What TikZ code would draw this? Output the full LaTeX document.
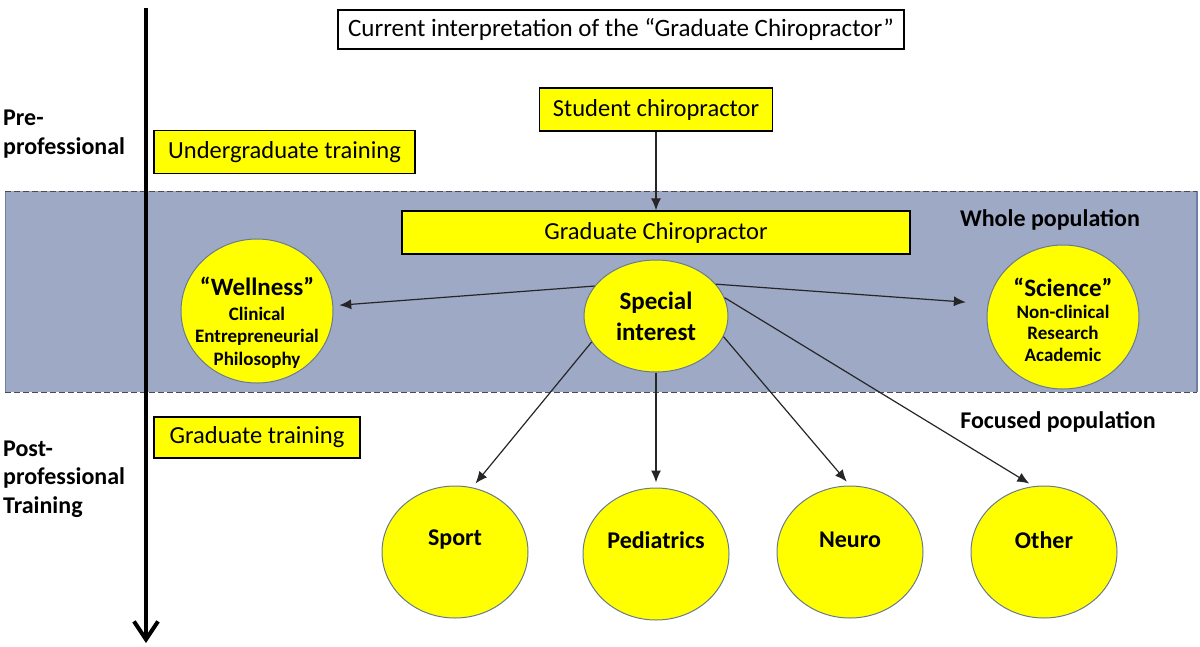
\documentclass[tikz,border=0pt]{standalone}
\usepackage{fontspec}
\setmainfont{Carlito}
\usetikzlibrary{shapes.geometric,arrows.meta}
\definecolor{bandfill}{HTML}{9EA9C6}
\definecolor{bandedge}{HTML}{6F7FA8}
\definecolor{circedge}{HTML}{6A7A90}
\definecolor{yel}{HTML}{FFFF00}
\newcommand\circbig{\bfseries\fontsize{25}{26}\selectfont}
\newcommand\circsmall{\bfseries\fontsize{19}{22.5}\selectfont}
\tikzset{
  ybox/.style={draw=black, line width=1.3pt, fill=yel, inner sep=0pt,
    font=\fontsize{24.5}{28}\selectfont},
  circ/.style={ellipse, draw=circedge, line width=1pt, fill=yel, inner sep=0pt,
    minimum width=146pt, minimum height=132pt},
  ctext/.style={font=\bfseries\fontsize{24}{28}\selectfont, inner sep=0pt},
  side/.style={font=\bfseries\fontsize{24}{28.5}\selectfont, align=left, inner sep=0pt, anchor=west},
  poplabel/.style={font=\bfseries\fontsize{24}{28}\selectfont, inner sep=0pt},
  conn/.style={draw=black!85, line width=1.2pt, -{Latex[length=12pt,width=10pt]}}
}
\begin{document}
\begin{tikzpicture}[x=1pt,y=-1pt]
\useasboundingbox (0,0) rectangle (1200,646);
% band
\fill[bandfill] (5,191) rectangle (1197,392);
\draw[bandedge, line width=1pt] (5,191) -- (5,392);
\draw[bandedge, line width=1.5pt] (1197,191) -- (1197,392);
\draw[black!70, line width=1pt, dash pattern=on 6pt off 3pt] (5,191) -- (1197,191);
\draw[black!70, line width=1pt, dash pattern=on 6pt off 3pt] (5,392) -- (1197,392);

% vertical time axis
\coordinate (axtop) at (146,8);
\coordinate (axbot) at (146,643);
\draw[line width=4pt, -{Straight Barb[length=18pt,width=24pt]}] (axtop) -- (axbot);

% title
\node[draw=black, line width=2.6pt, fill=white, inner sep=0pt, minimum width=566pt, minimum height=39pt,
  font=\fontsize{25}{28}\selectfont] (title) at (621,29.5) {Current interpretation of the “Graduate Chiropractor”};

% side labels
\node[side] (pre) at (3,134) {Pre-\\professional};
\node[side] (post) at (3,479) {Post-\\professional\\Training};

% boxes
\node[ybox, minimum width=233pt, minimum height=43pt] (student) at (656,109.5) {Student chiropractor};
\node[ybox, minimum width=261pt, minimum height=43pt] (ugrad) at (284.5,152) {Undergraduate training};
\node[ybox, minimum width=508pt, minimum height=43pt] (gchiro) at (656,232.5) {Graduate Chiropractor};
\node[ybox, minimum width=206pt, minimum height=41pt] (gtrain) at (257,437.5) {Graduate training};

% population labels
\node[poplabel] (whole) at (1050,220) {Whole population};
\node[poplabel] (focused) at (1058,422) {Focused population};

% circles in band
\node[circ, minimum width=152pt, minimum height=144pt] (wel) at (257,311) {};
\node[inner sep=0pt, align=center, font=\circsmall] (welT) at (257,323)
  {{\circbig “Wellness”}\\[2pt]Clinical\\Entrepreneurial\\Philosophy};
\node[circ, minimum width=144pt, minimum height=112pt, align=center,
  font=\bfseries\fontsize{25}{31}\selectfont] (si) at (656,316) {Special\\interest};
\node[circ, minimum width=152pt, minimum height=144pt] (sci) at (1063,317) {};
\node[inner sep=0pt, align=center, font=\bfseries\fontsize{19}{21.5}\selectfont] (sciT) at (1063,320)
  {{\circbig “Science”}\\Non-clinical\\Research\\Academic};

% bottom circles
\node[circ] (sport) at (455,552) {};
\node[circ] (ped) at (656,554) {};
\node[circ] (neuro) at (850,552) {};
\node[circ] (other) at (1044,552) {};
\node[ctext] (sportT) at ([yshift=12pt]sport.center) {Sport};
\node[ctext] (pedT) at ([yshift=14pt]ped.center) {Pediatrics};
\node[ctext] (neuroT) at ([yshift=12pt]neuro.center) {Neuro};
\node[ctext] (otherT) at ([yshift=12pt]other.center) {Other};

% connectors
\draw[conn] (student.south) -- (gchiro.north);
\draw[conn, shorten >=6pt] (si.154) -- (wel.4);
\draw[conn, shorten >=22pt] (si.28) -- (sci.170);
\draw[conn, shorten >=5pt] (si.202) -- (sport.75);
\draw[conn, shorten >=5pt] (si.south) -- (ped.north);
\draw[conn, shorten >=5pt] (si.-17) -- (neuro.north);
\draw[conn, shorten >=5pt] (si.15) -- (other.99);
\end{tikzpicture}
\end{document}
